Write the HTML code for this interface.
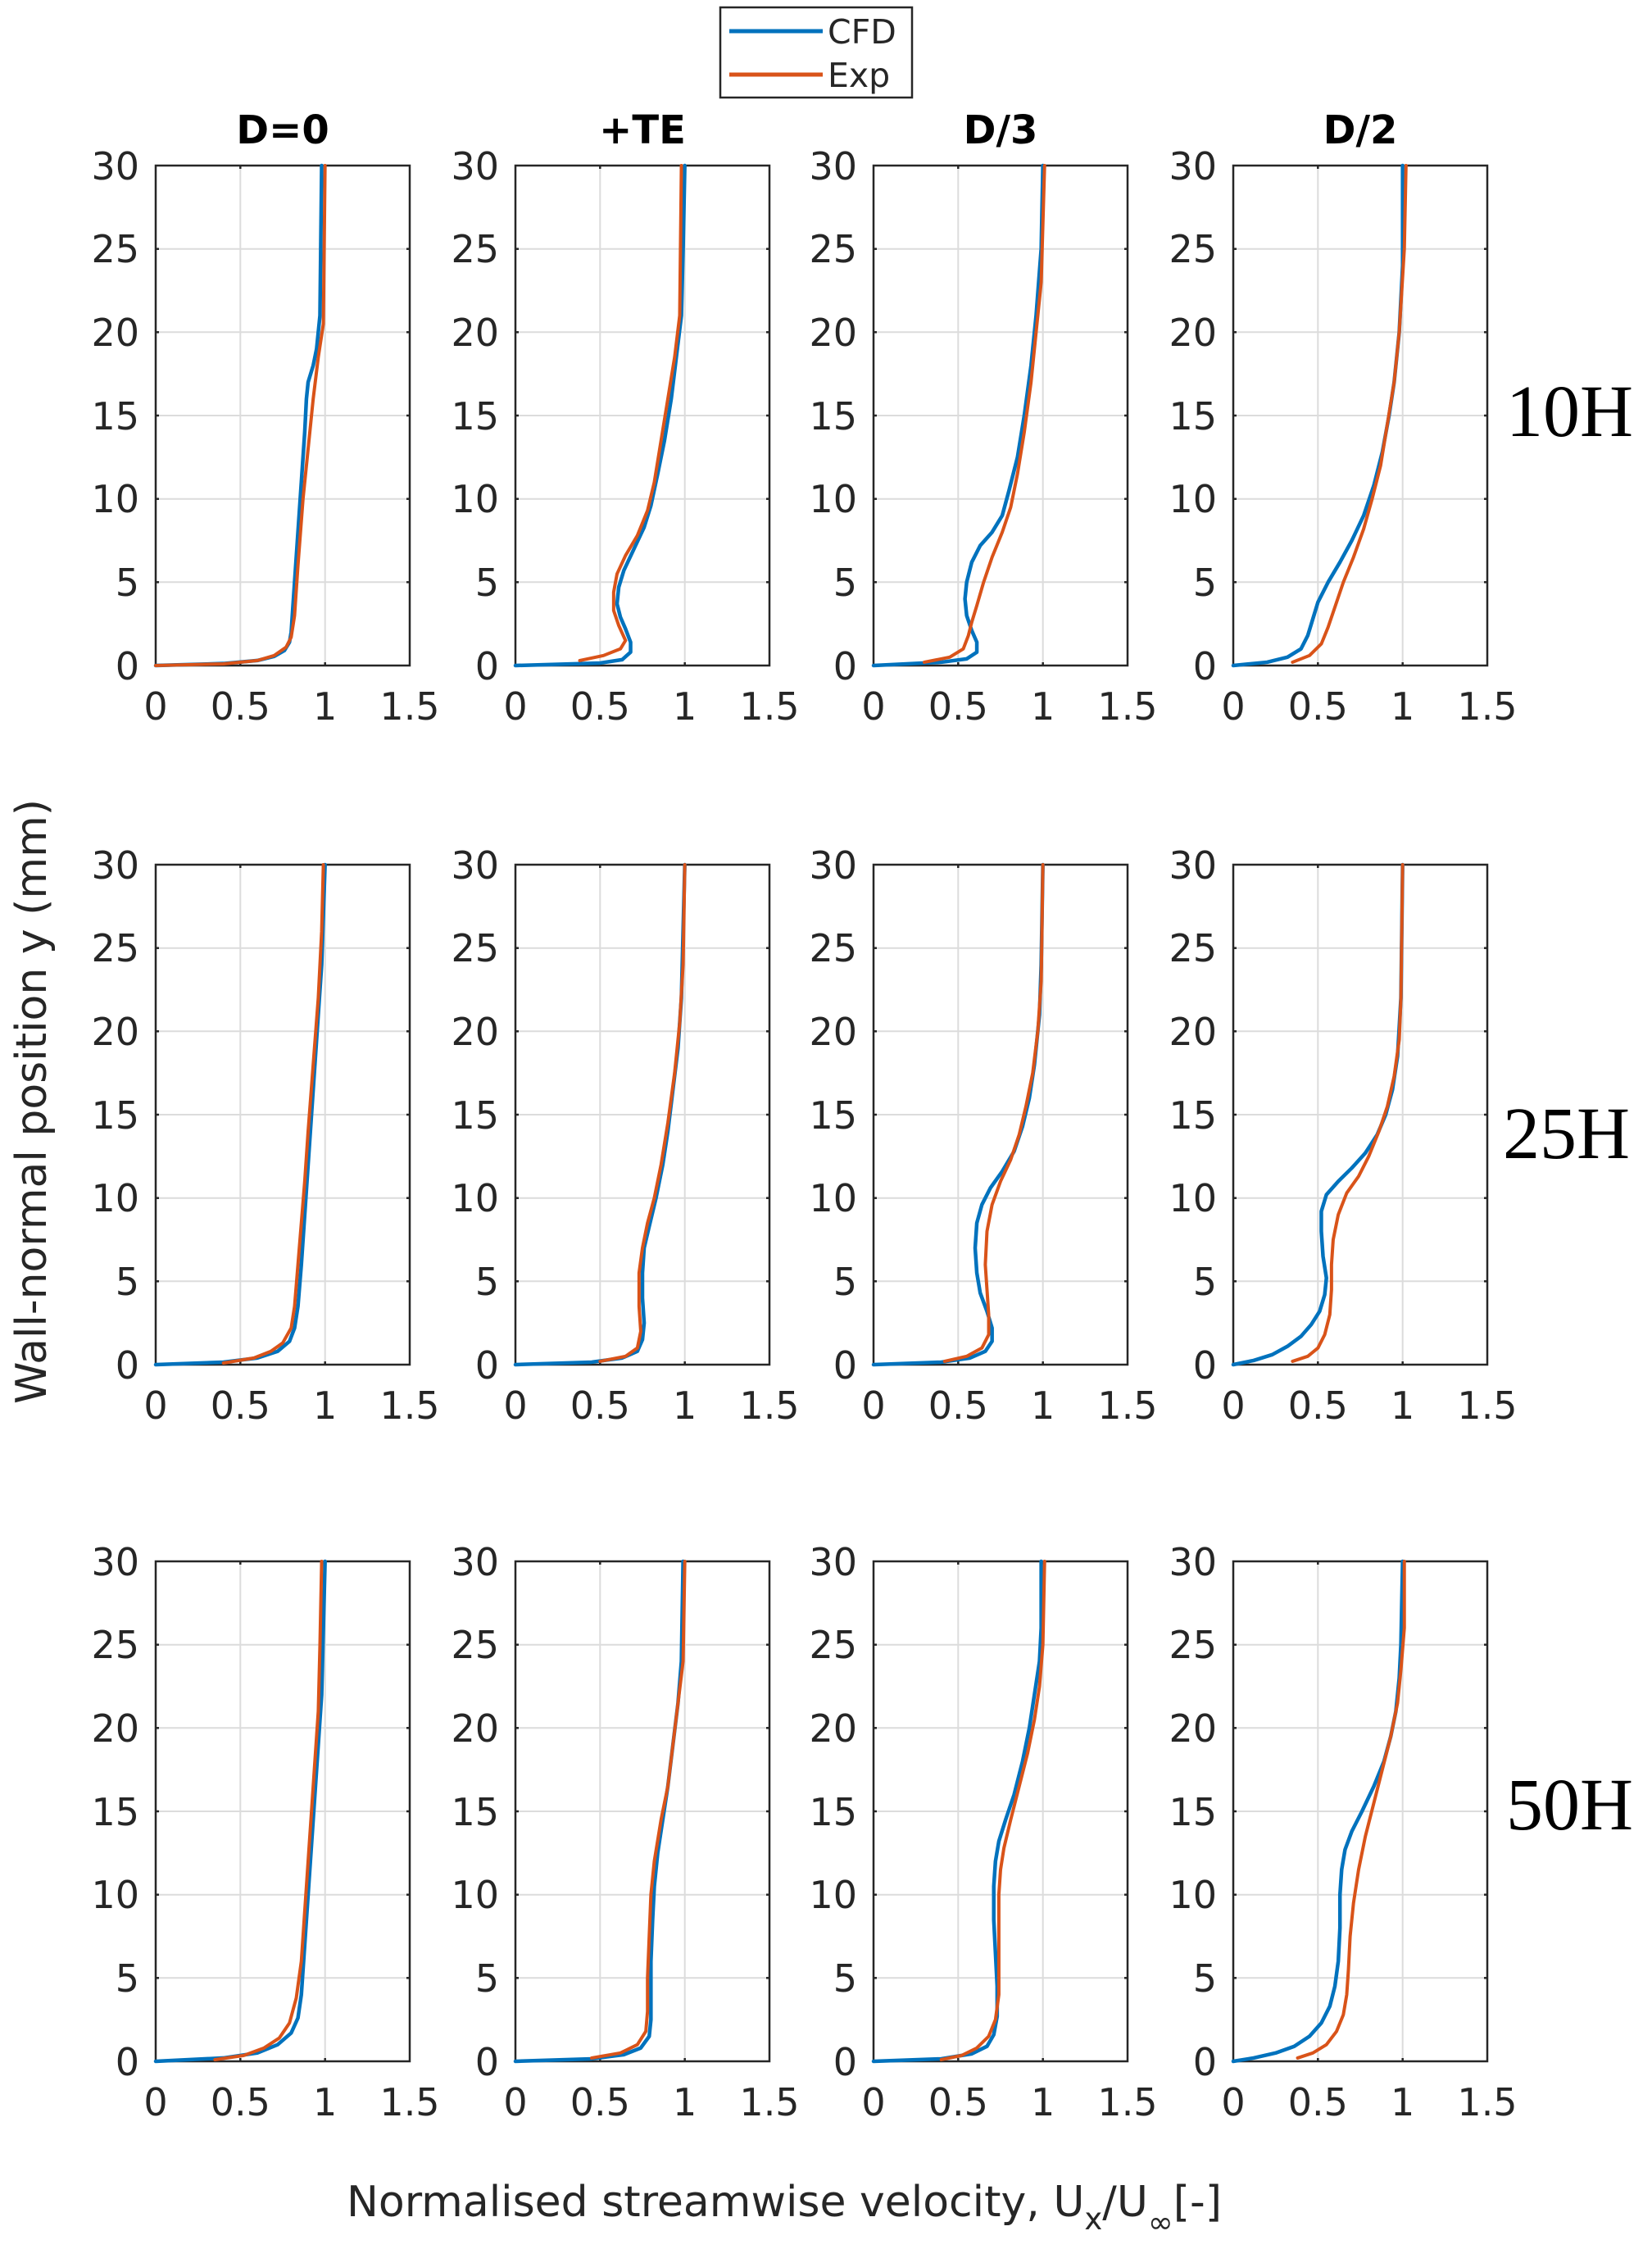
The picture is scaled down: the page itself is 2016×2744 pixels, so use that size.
<!DOCTYPE html>
<html><head><meta charset="utf-8"><style>
html,body{margin:0;padding:0;background:#fff}
svg{display:block}
text{font-family:"DejaVu Sans","Liberation Sans",sans-serif;fill:#262626}
.t{font-size:46px}
.g{stroke:#dcdcdc;stroke-width:2}
.c{fill:none;stroke:#0072BD;stroke-width:4.5;vector-effect:non-scaling-stroke;stroke-linejoin:round;stroke-linecap:round}
.e{fill:none;stroke:#D95319;stroke-width:4;vector-effect:non-scaling-stroke;stroke-linejoin:round;stroke-linecap:round}
.ax{fill:none;stroke:#262626;stroke-width:2.5}
.tk{stroke:#262626;stroke-width:2.5}
</style></head><body>
<svg width="2016" height="2744" viewBox="0 0 2016 2744" xmlns="http://www.w3.org/2000/svg">
<defs>
<g id="frame">
<line class="g" x1="103.3" y1="0" x2="103.3" y2="610"/><line class="g" x1="206.7" y1="0" x2="206.7" y2="610"/>
<line class="g" x1="0" y1="101.7" x2="310" y2="101.7"/><line class="g" x1="0" y1="203.3" x2="310" y2="203.3"/>
<line class="g" x1="0" y1="305" x2="310" y2="305"/><line class="g" x1="0" y1="406.7" x2="310" y2="406.7"/>
<line class="g" x1="0" y1="508.3" x2="310" y2="508.3"/>
<g class="tk">
<line x1="0" y1="101.7" x2="4" y2="101.7"/><line x1="0" y1="203.3" x2="4" y2="203.3"/><line x1="0" y1="305" x2="4" y2="305"/><line x1="0" y1="406.7" x2="4" y2="406.7"/><line x1="0" y1="508.3" x2="4" y2="508.3"/>
<line x1="306" y1="101.7" x2="310" y2="101.7"/><line x1="306" y1="203.3" x2="310" y2="203.3"/><line x1="306" y1="305" x2="310" y2="305"/><line x1="306" y1="406.7" x2="310" y2="406.7"/><line x1="306" y1="508.3" x2="310" y2="508.3"/>
<line x1="103.3" y1="0" x2="103.3" y2="4"/><line x1="206.7" y1="0" x2="206.7" y2="4"/><line x1="103.3" y1="606" x2="103.3" y2="610"/><line x1="206.7" y1="606" x2="206.7" y2="610"/>
</g>
<rect class="ax" x="0" y="0" width="310" height="610"/>
<g class="t" text-anchor="end">
<text x="-20" y="17">30</text><text x="-20" y="118">25</text><text x="-20" y="220">20</text>
<text x="-20" y="322">15</text><text x="-20" y="423">10</text><text x="-20" y="525">5</text><text x="-20" y="627">0</text>
</g>
<g class="t" text-anchor="middle">
<text x="0" y="676">0</text><text x="103.3" y="676">0.5</text><text x="206.7" y="676">1</text><text x="310" y="676">1.5</text>
</g>
</g>
</defs>

<!-- legend -->
<rect x="879" y="9" width="234" height="110" fill="#fff" stroke="#262626" stroke-width="2.5"/>
<line x1="890" y1="38" x2="1004" y2="38" stroke="#0072BD" stroke-width="5"/>
<line x1="890" y1="91" x2="1004" y2="91" stroke="#D95319" stroke-width="5"/>
<text x="1010" y="53" style="font-size:41px">CFD</text>
<text x="1010" y="106" style="font-size:41px">Exp</text>

<!-- titles -->
<g style="font-size:48px;font-weight:bold" text-anchor="middle">
<text x="345" y="175" style="fill:#000">D=0</text>
<text x="784" y="175" style="fill:#000">+TE</text>
<text x="1221" y="175" style="fill:#000">D/3</text>
<text x="1660" y="175" style="fill:#000">D/2</text>
</g>

<!-- row labels -->
<text x="1838" y="532" style="fill:#000;font-family:'Liberation Serif','DejaVu Serif',serif;font-size:90px">10H</text>
<text x="1834" y="1413" style="fill:#000;font-family:'Liberation Serif','DejaVu Serif',serif;font-size:90px">25H</text>
<text x="1838" y="2232" style="fill:#000;font-family:'Liberation Serif','DejaVu Serif',serif;font-size:90px">50H</text>

<text transform="translate(56,1344) rotate(-90)" text-anchor="middle" style="font-size:52px">Wall-normal position y (mm)</text>
<text x="423" y="2704" style="font-size:52px">Normalised streamwise velocity, U<tspan dy="16" style="font-size:37px">x</tspan><tspan dy="-16">/U</tspan><tspan dy="20" style="font-size:37px">∞</tspan><tspan dy="-20">[-]</tspan></text>

<!-- ROW 1 -->
<g transform="translate(190,202)"><use href="#frame"/>
<g transform="translate(0,610) scale(206.67,-20.333)">
<polyline class="c" points="0,0 0.4,0.12 0.6,0.3 0.7,0.55 0.76,0.9 0.79,1.4 0.8,2 0.82,5 0.84,8 0.86,11 0.88,14 0.89,16 0.9,17 0.93,18 0.95,19 0.97,21 0.98,30"/>
<polyline class="e" points="0,0 0.4,0.1 0.6,0.3 0.7,0.6 0.77,1.1 0.8,1.7 0.82,3 0.84,6 0.87,10 0.9,13 0.93,16 0.96,18.5 0.99,20.5 1,30"/>
</g></g>
<g transform="translate(629,202)"><use href="#frame"/>
<g transform="translate(0,610) scale(206.67,-20.333)">
<polyline class="c" points="0,0 0.5,0.15 0.63,0.35 0.68,0.8 0.68,1.4 0.65,2.2 0.62,2.9 0.6,3.7 0.61,4.7 0.64,5.7 0.7,7 0.76,8.3 0.8,9.6 0.84,11.5 0.88,13.5 0.92,16 0.95,18.5 0.98,21 0.99,25 1,30"/>
<polyline class="e" points="0.38,0.3 0.52,0.6 0.62,1 0.65,1.5 0.61,2.4 0.58,3.3 0.58,4.4 0.6,5.5 0.65,6.6 0.72,7.8 0.78,9.3 0.82,11 0.86,13.5 0.9,16 0.94,18.5 0.97,21 0.98,30"/>
</g></g>
<g transform="translate(1066,202)"><use href="#frame"/>
<g transform="translate(0,610) scale(206.67,-20.333)">
<polyline class="c" points="0,0 0.4,0.2 0.55,0.4 0.61,0.8 0.61,1.4 0.58,2.1 0.55,3 0.54,4 0.55,5 0.58,6.2 0.63,7.2 0.7,8 0.76,9 0.8,10.5 0.85,12.5 0.89,15 0.93,18 0.96,21 0.99,25 1,30"/>
<polyline class="e" points="0.3,0.2 0.45,0.5 0.53,1 0.56,1.8 0.58,2.6 0.61,3.6 0.65,5 0.7,6.5 0.76,8 0.81,9.5 0.85,11.5 0.89,14 0.93,17 0.96,20 0.99,23 1.01,30"/>
</g></g>
<g transform="translate(1505,202)"><use href="#frame"/>
<g transform="translate(0,610) scale(206.67,-20.333)">
<polyline class="c" points="0,0 0.2,0.2 0.32,0.5 0.4,1 0.44,1.8 0.47,2.8 0.5,3.8 0.56,5 0.63,6.2 0.7,7.5 0.77,9 0.83,10.8 0.88,12.8 0.92,15 0.95,17 0.98,20 1,24 1,30"/>
<polyline class="e" points="0.35,0.2 0.45,0.6 0.52,1.3 0.56,2.3 0.6,3.5 0.65,5 0.71,6.5 0.77,8.2 0.82,10 0.87,12 0.91,14.5 0.95,17 0.98,20 1.01,25 1.02,30"/>
</g></g>

<!-- ROW 2 -->
<g transform="translate(190,1055)"><use href="#frame"/>
<g transform="translate(0,610) scale(206.67,-20.333)">
<polyline class="c" points="0,0 0.4,0.15 0.6,0.4 0.72,0.8 0.79,1.4 0.82,2.2 0.84,3.5 0.86,6 0.88,9 0.9,12 0.92,15 0.94,18 0.96,21 0.98,24 1,30"/>
<polyline class="e" points="0.4,0.1 0.58,0.4 0.68,0.8 0.75,1.3 0.8,2.2 0.82,3.5 0.84,6 0.86,8.5 0.88,11 0.9,14 0.93,18 0.96,22 0.98,26 0.99,30"/>
</g></g>
<g transform="translate(629,1055)"><use href="#frame"/>
<g transform="translate(0,610) scale(206.67,-20.333)">
<polyline class="c" points="0,0 0.45,0.15 0.63,0.4 0.72,0.8 0.75,1.5 0.76,2.5 0.75,4 0.75,5.5 0.76,7 0.79,8.3 0.83,10 0.87,12 0.9,14 0.93,16.5 0.96,19 0.98,22 1,30"/>
<polyline class="e" points="0.5,0.2 0.65,0.5 0.72,1 0.74,2 0.73,3.5 0.73,5.5 0.75,7 0.78,8.5 0.82,10 0.86,12 0.9,14.5 0.94,17.5 0.97,20.5 0.99,24 1,30"/>
</g></g>
<g transform="translate(1066,1055)"><use href="#frame"/>
<g transform="translate(0,610) scale(206.67,-20.333)">
<polyline class="c" points="0,0 0.4,0.15 0.57,0.4 0.66,0.8 0.7,1.4 0.7,2.2 0.67,3.2 0.63,4.3 0.61,5.5 0.6,7 0.61,8.5 0.64,9.6 0.69,10.6 0.76,11.6 0.83,12.8 0.88,14.3 0.92,16 0.95,18 0.98,21 0.99,24 1,30"/>
<polyline class="e" points="0.42,0.2 0.55,0.5 0.64,1 0.68,1.8 0.68,3 0.67,4.5 0.66,6 0.67,8 0.7,9.6 0.75,11 0.81,12.3 0.86,13.8 0.9,15.5 0.94,17.5 0.97,20 0.99,23 1,30"/>
</g></g>
<g transform="translate(1505,1055)"><use href="#frame"/>
<g transform="translate(0,610) scale(206.67,-20.333)">
<polyline class="c" points="0,0 0.12,0.25 0.23,0.6 0.32,1.1 0.4,1.7 0.46,2.4 0.51,3.2 0.54,4.2 0.55,5.2 0.53,6.5 0.52,8 0.52,9.2 0.55,10.2 0.62,11 0.7,11.8 0.78,12.7 0.85,13.8 0.9,15 0.94,16.5 0.97,18.5 0.99,22 1,30"/>
<polyline class="e" points="0.35,0.2 0.44,0.5 0.5,1 0.54,1.8 0.57,3 0.58,4.5 0.58,6 0.59,7.5 0.62,9 0.67,10.3 0.74,11.3 0.8,12.5 0.86,14 0.91,15.5 0.95,17.3 0.98,19.5 0.99,22 1,30"/>
</g></g>

<!-- ROW 3 -->
<g transform="translate(190,1905)"><use href="#frame"/>
<g transform="translate(0,610) scale(206.67,-20.333)">
<polyline class="c" points="0,0 0.4,0.2 0.6,0.5 0.72,1 0.8,1.7 0.84,2.6 0.86,4 0.88,7 0.9,10 0.92,13 0.94,16 0.96,19 0.98,22 0.99,26 1,30"/>
<polyline class="e" points="0.35,0.1 0.52,0.35 0.64,0.8 0.73,1.4 0.79,2.3 0.83,3.8 0.86,6 0.88,9 0.9,12 0.92,15 0.94,18 0.96,21 0.97,25 0.98,30"/>
</g></g>
<g transform="translate(629,1905)"><use href="#frame"/>
<g transform="translate(0,610) scale(206.67,-20.333)">
<polyline class="c" points="0,0 0.45,0.15 0.64,0.4 0.74,0.8 0.79,1.5 0.8,2.5 0.8,4 0.8,6 0.81,8.5 0.82,10.5 0.84,12.5 0.87,14.5 0.9,16.5 0.93,19 0.96,21.5 0.98,24 0.99,30"/>
<polyline class="e" points="0.45,0.2 0.62,0.5 0.72,1 0.77,1.8 0.78,3 0.78,5 0.79,7.5 0.8,10 0.82,12 0.86,14.5 0.9,16.5 0.93,19 0.96,21.5 0.99,24 1,30"/>
</g></g>
<g transform="translate(1066,1905)"><use href="#frame"/>
<g transform="translate(0,610) scale(206.67,-20.333)">
<polyline class="c" points="0,0 0.4,0.15 0.58,0.45 0.67,0.9 0.71,1.6 0.73,2.7 0.73,4.5 0.72,6.5 0.71,8.5 0.71,10.5 0.72,12 0.74,13.2 0.78,14.5 0.83,16 0.88,18 0.92,20 0.95,22 0.98,24 0.99,26 0.99,30"/>
<polyline class="e" points="0.4,0.1 0.52,0.35 0.61,0.8 0.68,1.5 0.72,2.5 0.74,4 0.74,6 0.74,8 0.74,10 0.75,11.5 0.77,12.8 0.81,14.5 0.86,16.5 0.91,18.5 0.95,20.5 0.98,22.5 1,25 1.01,30"/>
</g></g>
<g transform="translate(1505,1905)"><use href="#frame"/>
<g transform="translate(0,610) scale(206.67,-20.333)">
<polyline class="c" points="0,0 0.12,0.2 0.25,0.5 0.36,0.9 0.45,1.5 0.52,2.3 0.57,3.3 0.6,4.5 0.62,6 0.63,8 0.63,10 0.64,11.5 0.66,12.7 0.7,13.8 0.76,15 0.83,16.5 0.89,18 0.93,19.5 0.96,21 0.98,23 0.99,25 1,30"/>
<polyline class="e" points="0.38,0.2 0.47,0.5 0.55,1 0.61,1.8 0.65,2.8 0.67,4 0.68,5.5 0.69,7.5 0.71,9.5 0.74,11.5 0.78,13.5 0.83,15.5 0.88,17.5 0.93,19.5 0.97,21.5 0.99,23.5 1.01,26 1.01,30"/>
</g></g>
</svg>
</body></html>
